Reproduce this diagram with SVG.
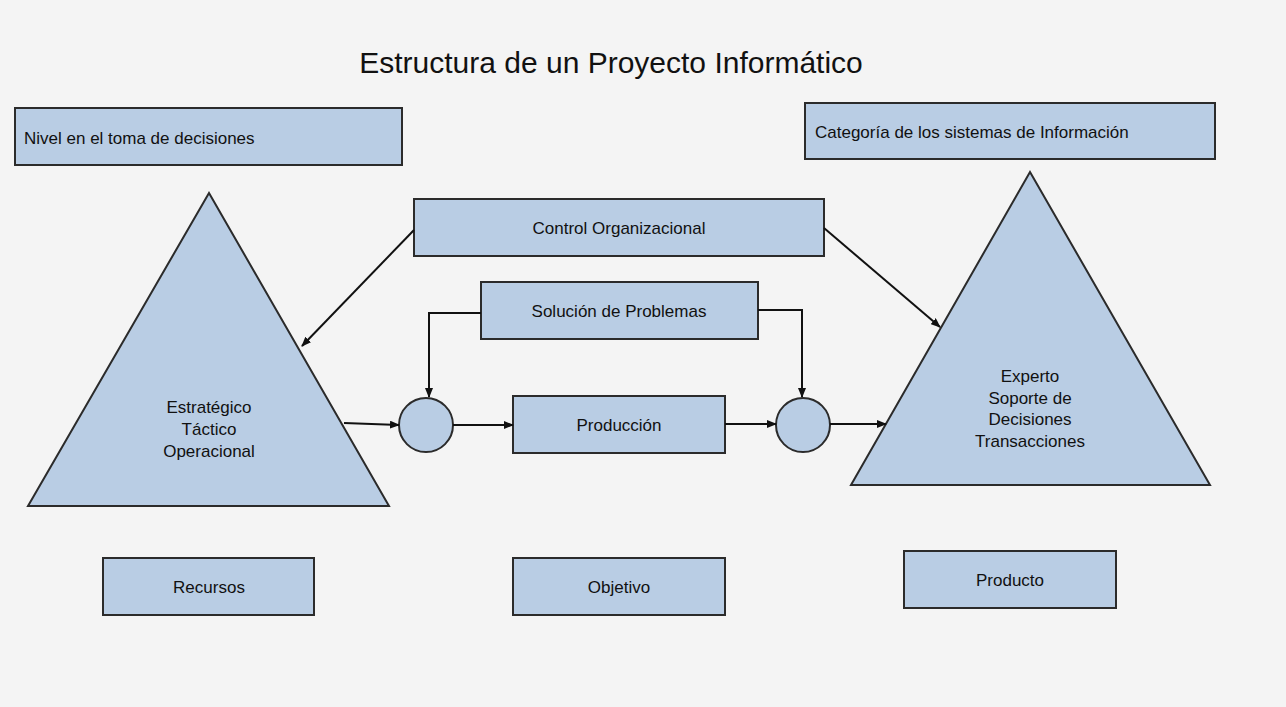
<svg xmlns="http://www.w3.org/2000/svg" width="1286" height="707" viewBox="0 0 1286 707">
<defs>
<style>
.n{fill:#b9cde4;stroke:#2b2b2b;stroke-width:2}
text{font-family:"Liberation Sans",Arial,sans-serif;font-size:17px;fill:#111}
.c{text-anchor:middle}
.e{fill:none;stroke:#111;stroke-width:2;marker-end:url(#a)}
</style>
<marker id="a" markerWidth="10" markerHeight="8" refX="9" refY="4" orient="auto" markerUnits="userSpaceOnUse"><path d="M0,0L10,4L0,8z" fill="#111"/></marker>
</defs>
<rect width="1286" height="707" fill="#f4f4f4"/>
<text x="611" y="73" class="c" style="font-size:30px">Estructura de un Proyecto Informático</text>
<g id="nivel"><rect class="n" x="15" y="108" width="387" height="57"/><text x="24" y="144">Nivel en el toma de decisiones</text></g>
<g id="categoria"><rect class="n" x="805" y="103" width="410" height="56"/><text x="815" y="138">Categoría de los sistemas de Información</text></g>
<g id="trileft"><polygon class="n" points="209,193 389,506 28,506"/><text class="c" x="209" y="413">Estratégico</text><text class="c" x="209" y="435">Táctico</text><text class="c" x="209" y="457">Operacional</text></g>
<g id="triright"><polygon class="n" points="1030,172 1210,485 851,485"/><text class="c" x="1030" y="382">Experto</text><text class="c" x="1030" y="404">Soporte de</text><text class="c" x="1030" y="425">Decisiones</text><text class="c" x="1030" y="447">Transacciones</text></g>
<g id="control"><rect class="n" x="414" y="199" width="410" height="57"/><text class="c" x="619" y="234">Control Organizacional</text></g>
<g id="solucion"><rect class="n" x="481" y="282" width="277" height="57"/><text class="c" x="619" y="317">Solución de Problemas</text></g>
<g id="produccion"><rect class="n" x="513" y="396" width="212" height="57"/><text class="c" x="619" y="431">Producción</text></g>
<g id="c1"><circle class="n" cx="426" cy="425" r="27"/></g>
<g id="c2"><circle class="n" cx="803" cy="425" r="27"/></g>
<g id="recursos"><rect class="n" x="103" y="558" width="211" height="57"/><text class="c" x="209" y="593">Recursos</text></g>
<g id="objetivo"><rect class="n" x="513" y="558" width="212" height="57"/><text class="c" x="619" y="593">Objetivo</text></g>
<g id="producto"><rect class="n" x="904" y="551" width="212" height="57"/><text class="c" x="1010" y="586">Producto</text></g>
<g id="connectors">
<path class="e" d="M414,230L302,346"/>
<path class="e" d="M824,228L940,327"/>
<path class="e" d="M481,313H429V397"/>
<path class="e" d="M758,310H802V397"/>
<path class="e" d="M344,423L399,425"/>
<path class="e" d="M453,425H513"/>
<path class="e" d="M725,424H776"/>
<path class="e" d="M830,424H886"/>
</g>
</svg>
